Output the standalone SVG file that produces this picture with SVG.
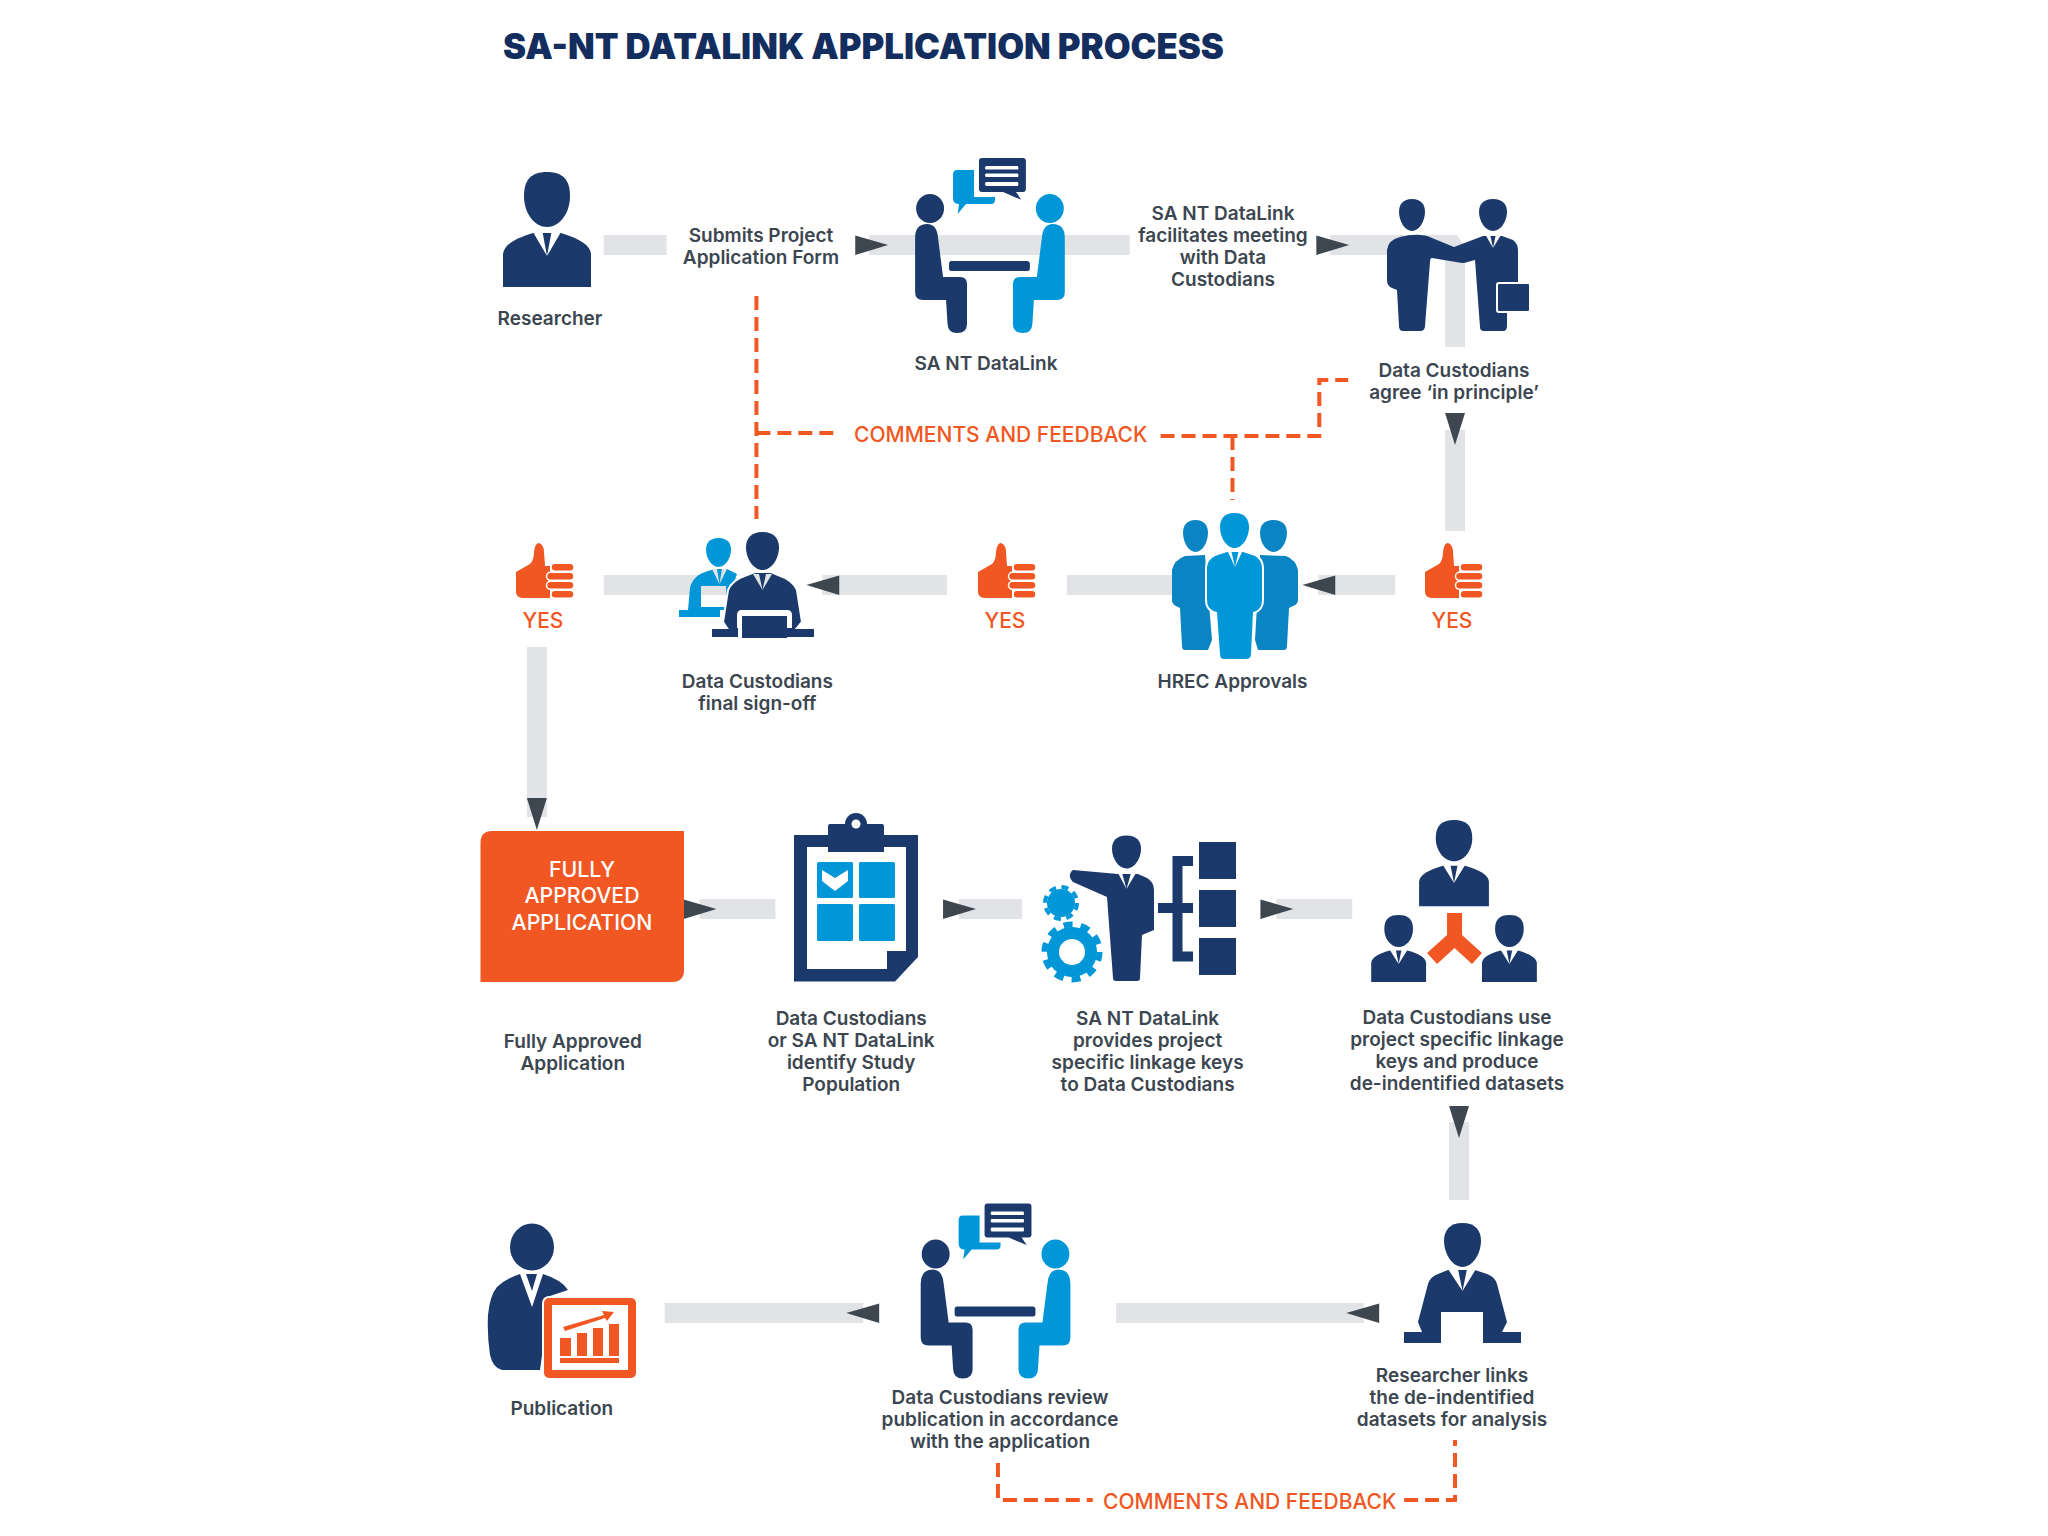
<svg xmlns="http://www.w3.org/2000/svg" xmlns:xlink="http://www.w3.org/1999/xlink" width="2048" height="1536" viewBox="0 0 2048 1536">
<style>
.t{font-family:"Inter","Liberation Sans",sans-serif;font-weight:600;font-size:19px;fill:#3c4650;text-anchor:middle}
.o{font-family:"Inter","Liberation Sans",sans-serif;font-weight:500;font-size:21px;fill:#f05722}
.w{font-family:"Inter","Liberation Sans",sans-serif;font-weight:500;font-size:21.300px;fill:#fff;text-anchor:middle}
.bar{fill:#e1e3e6}.tri{fill:#3e4750}
.dash{fill:none;stroke:#f05722;stroke-width:4;stroke-dasharray:14 7}
.n{fill:#1b3a6b}.b{fill:#0097d8}.m{fill:#0b84c4}.r{fill:#f05722}.wh{fill:#fff}
</style>
<defs>
<path id="head" d="M0,-1C.7,-1 1,-.65 1,-.2C1,.4 .55,1 0,1C-.55,1 -1,.4 -1,-.2C-1,-.65 -.7,-1 0,-1Z"/>
<g id="man">
<path class="n" d="M44,0C60,0 67,8 67,24C67,42 56,55 44,55C32,55 21,42 21,24C21,8 28,0 44,0Z"/>
<path class="n" d="M0,115V82C1,72 14,66 30,61H58C74,66 87,72 88,82V115Z"/>
<path class="wh" d="M30,60H39.500L44,84ZM48.500,60H58L44,84Z"/>
</g>
<g id="meeting">
<path class="b" d="M958,170H975V197H996V200Q996,204 992,204H967L958.600,214L960,204Q954,204 954,198V175Q954,170 958,170Z"/>
<path class="n" stroke="#fff" stroke-width="2" d="M983,157H1024Q1028,157 1028,161V189Q1028,193 1024,193H1019L1025,202L1004,193H983Q979,193 979,189V161Q979,157 983,157Z"/>
<path class="wh" d="M987,166H1019Q1020,169 1019,169.500H987Q985,168 987,166ZM987,173.500H1019Q1020,175 1019,177H987Q985,175 987,173.500ZM987,182H1019Q1020,184 1019,186H987Q985,184 987,182Z"/>
<ellipse class="n" cx="931" cy="208.500" rx="14" ry="14.500"/>
<path class="n" d="M916,238Q916,224 928,224Q938,224 939,238L944,277H961Q968,277 968,284V324Q968,333 958,333Q949,333 948.500,324L947,300H924Q916,300 916,292Z"/>
<ellipse class="b" cx="1051" cy="208.500" rx="14" ry="14.500"/>
<path class="b" d="M1066,238Q1066,224 1054,224Q1044,224 1043,238L1038,277H1021Q1014,277 1014,284V324Q1014,333 1024,333Q1033,333 1033.500,324L1035,300H1058Q1066,300 1066,292Z"/>
<rect class="n" x="950" y="261" width="81" height="10" rx="2.500"/>
</g>
<g id="thumb">
<path class="r" d="M516,572L530,564Q534,560 534,552Q535,543 539,543Q544,545 544,552L545,566H550V598H522Q516,597 516,592Z"/>
<g class="r" stroke="#fff" stroke-width="1.500">
<rect x="551" y="563.300" width="23" height="8" rx="4"/>
<rect x="546.500" y="572.300" width="27.500" height="8" rx="4"/>
<rect x="546.500" y="581.300" width="27.500" height="8" rx="4"/>
<rect x="551" y="590.300" width="23" height="8" rx="4"/>
</g>
</g>
</defs>
<rect width="2048" height="1536" fill="#fff"/>
<text id="title" x="503" y="59" textLength="721" lengthAdjust="spacingAndGlyphs" font-family="Inter,'Liberation Sans',sans-serif" font-weight="900" font-size="35" fill="#132d5e">SA-NT DATALINK APPLICATION PROCESS</text>

<g id="connectors" transform="matrix(.998 0 0 1 .94 0)">
<rect class="bar" x="604" y="235" width="63" height="20"/>
<rect class="bar" x="870" y="235" width="261" height="20"/>
<path class="tri" d="M856,235.500L889,245L856,255Z"/>
<path class="bar" d="M1332,235H1459L1467,247V347H1447V255H1332Z"/>
<path class="tri" d="M1318,235.500L1351,245L1318,255Z"/>
<rect class="bar" x="1447" y="430" width="20" height="101"/>
<path class="tri" d="M1447,413L1457,445L1467,413Z"/>
<rect class="bar" x="1320" y="575" width="77" height="20"/>
<path class="tri" d="M1337,575.500L1304,585L1337,595Z"/>
<rect class="bar" x="1068" y="575" width="120" height="20"/>
<rect class="bar" x="823" y="575" width="125" height="20"/>
<path class="tri" d="M840,575.500L807,585L840,595Z"/>
<rect class="bar" x="604" y="575" width="130" height="20"/>
<rect class="bar" x="527" y="647" width="20" height="170"/>
<path class="tri" d="M527,798L537,830L547,798Z"/>
<rect class="bar" x="700" y="899" width="76" height="20"/>
<path class="tri" d="M684,899.500L717,909L684,919Z"/>
<rect class="bar" x="960" y="899" width="63" height="20"/>
<path class="tri" d="M944,899.500L977,909L944,919Z"/>
<rect class="bar" x="1278" y="899" width="76" height="20"/>
<path class="tri" d="M1262,899.500L1295,909L1262,919Z"/>
<rect class="bar" x="1451" y="1122" width="20" height="78"/>
<path class="tri" d="M1451,1106L1461,1138L1471,1106Z"/>
<rect class="bar" x="1117.500" y="1303" width="248" height="20"/>
<path class="tri" d="M1381,1303.500L1348,1313L1381,1323Z"/>
<rect class="bar" x="665" y="1303" width="199" height="20"/>
<path class="tri" d="M880,1303.500L847,1313L880,1323Z"/>
<path class="dash" d="M757,296V519"/>
<path class="dash" d="M757,433H839"/>
<path class="dash" d="M1162,436H1321V380H1350"/>
<path class="dash" d="M1234,436V500"/>
<path class="dash" d="M999,1463V1500H1094"/>
<path class="dash" d="M1406,1500H1457V1440"/>
</g>
<text id="feedback-1" class="o" x="854" y="442">COMMENTS AND FEEDBACK</text>
<text id="feedback-2" class="o" x="1103" y="1509">COMMENTS AND FEEDBACK</text>

<g id="node-researcher">
<use xlink:href="#man" href="#man" x="503" y="172"/>
<text class="t" x="550" y="325">Researcher</text>
</g>
<g id="node-submits"><text class="t" x="761" y="242">Submits Project</text><text class="t" x="761" y="264">Application Form</text></g>
<g id="node-datalink">
<use xlink:href="#meeting" href="#meeting" transform="matrix(.998 0 0 1 .94 0)"/>
<text class="t" x="986" y="370">SA NT DataLink</text>
</g>
<g id="node-facilitates"><text class="t" x="1223" y="220">SA NT DataLink</text><text class="t" x="1223" y="242">facilitates meeting</text><text class="t" x="1223" y="264">with Data</text><text class="t" x="1223" y="286">Custodians</text></g>
<g id="node-agree">
<use xlink:href="#head" href="#head" class="n" transform="translate(1412,215) scale(13,16)"/>
<use xlink:href="#head" href="#head" class="n" transform="translate(1493,215) scale(14,16)"/>
<path class="n" d="M1387,250Q1388,240 1400,237Q1420,232 1432,238L1454,247L1483,236H1502L1513,240Q1518,244 1518,250V283H1507V326Q1507,331 1503,331H1484Q1480,331 1480,327L1475,260L1464,263Q1460,263 1456,262L1432,258Q1430,258 1430,262L1425,326Q1425,331 1420,331H1403Q1399,331 1399,326L1397,290L1392,288Q1387,286 1387,280Z"/>
<path class="wh" d="M1485,234H1490L1493,248ZM1496,234H1501.500L1493,248Z"/>
<rect class="n" x="1497" y="283" width="33" height="29" rx="2" stroke="#fff" stroke-width="2"/>
<text class="t" x="1454" y="377">Data Custodians</text><text class="t" x="1454" y="399">agree ‘in principle’</text>
</g>

<g id="node-yes-1"><use xlink:href="#thumb" href="#thumb"/><text class="o" x="543" y="628" text-anchor="middle">YES</text></g>
<g id="node-yes-2"><use xlink:href="#thumb" href="#thumb" x="462"/><text class="o" x="1005" y="628" text-anchor="middle">YES</text></g>
<g id="node-yes-3"><use xlink:href="#thumb" href="#thumb" x="909"/><text class="o" x="1452" y="628" text-anchor="middle">YES</text></g>

<g id="node-signoff">
<use xlink:href="#head" href="#head" class="b" transform="translate(718.500,552.500) scale(12.500,14.500)"/>
<path class="b" d="M708,571L715,569H727L737,574L728,600H726V610H720V617H679V610H688L690,588Q693,575 708,571Z"/>
<path class="bar" d="M712,569H717L719.500,584ZM722,569H727L719.500,584Z"/>
<rect class="bar" x="701" y="586" width="25" height="9"/>
<rect class="wh" x="701" y="595" width="25" height="12"/>
<rect class="b" x="705" y="607" width="15" height="2"/>
<use xlink:href="#head" href="#head" class="n" transform="translate(762.500,551) scale(16.500,19)"/>
<path class="n" stroke="#fff" stroke-width="2" d="M747,575L755,572H771L778,575Q793,580 797,590L802,622L797,628H815V638H711V628H727L723,622L728,590Q732,580 747,575Z"/>
<path class="bar" d="M753,574H759L762.500,590ZM766,574H772L762.500,590Z"/>
<path class="wh" d="M737,628V615Q737,610 742,610H787Q792,610 792,615V628H787V639H738V628Z"/>
<rect class="n" x="742" y="616" width="45" height="22"/>
<text class="t" x="757.400" y="688">Data Custodians</text><text class="t" x="757.400" y="710">final sign-off</text>
</g>

<g id="node-hrec">
<use xlink:href="#head" href="#head" class="m" transform="translate(1195.500,536) scale(12.500,16)"/>
<use xlink:href="#head" href="#head" class="m" transform="translate(1273.500,536) scale(13.500,16)"/>
<path class="m" d="M1185,556L1205,555L1212,640L1208,650H1185Q1182,650 1182,646L1180,608L1176,606Q1172,604 1172,600V570Q1174,560 1185,556Z"/>
<path class="m" d="M1286,556L1260,555L1255,640L1258,650H1284Q1287,650 1287,646L1289,608L1293,606Q1298,604 1298,600V570Q1296,560 1286,556Z"/>
<use xlink:href="#head" href="#head" class="b" transform="translate(1234.500,530.500) scale(14.500,17.500)"/>
<path class="b" stroke="#fff" stroke-width="4" paint-order="stroke" d="M1227,552H1243L1255,556Q1262,560 1262,568V600Q1262,610 1253,612L1251,654Q1251,659 1246,659H1224Q1220,659 1220,654L1217,612Q1207,610 1207,600V568Q1207,560 1215,556Z"/>
<path class="wh" d="M1228,552H1231.500L1235,567ZM1238.500,552H1242L1235,567Z"/>
<text class="t" x="1232.500" y="688">HREC Approvals</text>
</g>

<g id="node-approved">
<path class="r" d="M492,831H684V970Q684,982 672,982H480.500V843Q480.500,831 492,831Z"/>
<text class="w" x="582" y="877">FULLY</text><text class="w" x="582" y="903">APPROVED</text><text class="w" x="582" y="930">APPLICATION</text>
<text class="t" x="572.800" y="1048">Fully Approved</text><text class="t" x="572.800" y="1070">Application</text>
</g>

<g id="node-population">
<circle class="n" cx="856" cy="824" r="11"/>
<path class="n" d="M794,835H828V826Q828,824 830,824H882Q884,824 884,826V835H918V957L895,981.500H794Z"/>
<circle class="wh" cx="856" cy="824" r="4.500"/>
<path class="wh" d="M807,847H828V852H884V847H906V951H887V969H807Z"/>
<rect class="b" x="817" y="862" width="36" height="36" rx="1.500"/>
<rect class="b" x="859" y="862" width="36" height="36" rx="1.500"/>
<rect class="b" x="817" y="904" width="36" height="37" rx="1.500"/>
<rect class="b" x="859" y="904" width="36" height="37" rx="1.500"/>
<path class="wh" d="M822,870L835,878L848,870V881L835,891L822,881Z"/>
<text class="t" x="851.200" y="1025">Data Custodians</text><text class="t" x="851.200" y="1047">or SA NT DataLink</text><text class="t" x="851.200" y="1069">identify Study</text><text class="t" x="851.200" y="1091">Population</text>
</g>

<g id="node-keys">
<circle cx="1061" cy="903" r="14" fill="#0097d8"/>
<circle cx="1061" cy="903" r="16" fill="none" stroke="#0097d8" stroke-width="4" stroke-dasharray="7 5.570"/>
<circle cx="1072" cy="952" r="19" fill="none" stroke="#0097d8" stroke-width="12"/>
<circle cx="1072" cy="952" r="27.500" fill="none" stroke="#0097d8" stroke-width="6" stroke-dasharray="9 8.280"/>
<use xlink:href="#head" href="#head" class="n" transform="translate(1126.500,852) scale(14.500,16.500)"/>
<path class="n" d="M1073,870L1118,874H1138L1147,878Q1154,882 1154,890V930L1142,935L1140,978Q1140,981 1137,981H1116Q1113,981 1113,978L1107,897L1073,882Q1069,878 1070,874Q1071,871 1073,870Z"/>
<path class="wh" d="M1118,873H1122L1126.500,889ZM1131,873H1136L1126.500,889Z"/>
<rect class="n" x="1199" y="842" width="37" height="37"/>
<rect class="n" x="1199" y="890" width="37" height="37"/>
<rect class="n" x="1199" y="938" width="37" height="37"/>
<path fill="none" stroke="#1b3a6b" stroke-width="10" d="M1193,861H1177.500V956.500H1193M1158,908H1193"/>
<text class="t" x="1147.600" y="1025">SA NT DataLink</text><text class="t" x="1147.600" y="1047">provides project</text><text class="t" x="1147.600" y="1069">specific linkage keys</text><text class="t" x="1147.600" y="1091">to Data Custodians</text>
</g>

<g id="node-deidentify">
<g transform="matrix(.998 0 0 1 .94 0)">
<use xlink:href="#man" href="#man" transform="translate(1421,820) scale(.795,.75)"/>
<use xlink:href="#man" href="#man" transform="translate(1373,915) scale(.625,.583)"/>
<use xlink:href="#man" href="#man" transform="translate(1484,915) scale(.625,.583)"/>
<path class="r" d="M1449,913H1464V935L1484,953L1474,964L1456.500,948L1439,964L1429,953L1449,935Z"/>
</g>
<text class="t" x="1457" y="1024">Data Custodians use</text><text class="t" x="1457" y="1046">project specific linkage</text><text class="t" x="1457" y="1068">keys and produce</text><text class="t" x="1457" y="1090">de-indentified datasets</text>
</g>

<g id="node-links">
<use xlink:href="#head" href="#head" class="n" transform="translate(1462.500,1245) scale(18.500,22)"/>
<path class="n" d="M1448,1270H1475L1487,1274Q1495,1277 1497,1284L1507,1322L1502,1332H1521V1343H1483V1312H1441V1343H1404V1332H1422L1418,1322L1428,1284Q1430,1277 1438,1274Z"/>
<path class="wh" d="M1448,1269H1458L1462.500,1291ZM1467,1269H1476L1462.500,1291Z"/>
<text class="t" x="1452" y="1382">Researcher links</text><text class="t" x="1452" y="1404">the de-indentified</text><text class="t" x="1452" y="1426">datasets for analysis</text>
</g>

<g id="node-review">
<use xlink:href="#meeting" href="#meeting" transform="matrix(.998 0 0 1 6.530 1045.500)"/>
<text class="t" x="1000" y="1404">Data Custodians review</text><text class="t" x="1000" y="1426">publication in accordance</text><text class="t" x="1000" y="1448">with the application</text>
</g>

<g id="node-publication">
<ellipse class="n" cx="532" cy="1247" rx="22" ry="23.500"/>
<path class="n" d="M520,1274H543Q562,1280 568,1290L550,1296L540,1370H502Q493,1368 490,1355Q487,1335 488,1315Q490,1295 497,1287Q505,1279 520,1274Z"/>
<path class="wh" d="M520,1274H526L532,1291L537,1274H543L532,1307Z"/>
<rect class="r" x="543" y="1297" width="94" height="82" rx="6" stroke="#fff" stroke-width="2"/>
<rect class="wh" x="552" y="1305" width="76" height="65"/>
<path class="r" d="M560,1338H571V1356H560ZM577,1333H587V1356H577ZM593,1328H603V1356H593ZM609,1324H619V1356H609ZM560,1358H619V1363H560ZM563,1327L604,1315L602,1311L614,1312L607,1321L605,1318L565,1331Z"/>
<text class="t" x="561.800" y="1415">Publication</text>
</g>
</svg>
